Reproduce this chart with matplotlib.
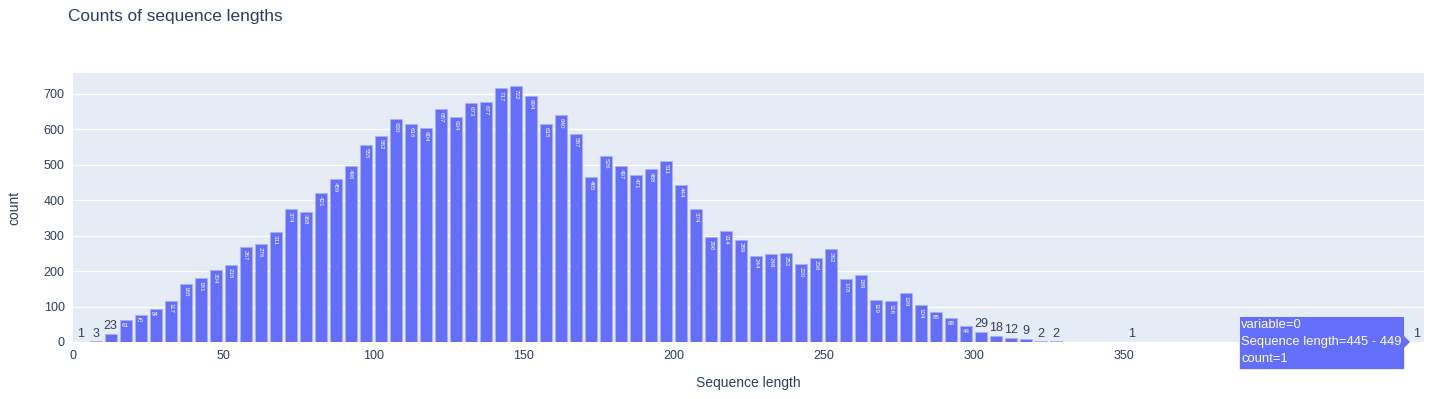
"""Histogram of sequence lengths, plotly-like styling."""
import matplotlib
matplotlib.use("Agg")
import matplotlib.pyplot as plt
from matplotlib.patches import Rectangle, Polygon
import numpy as np

# bin width 5, starting at 0
bin_width = 5
counts = [1, 3, 23, 61, 75, 94, 117, 165, 181, 204, 216, 267, 276, 311, 374, 368,
          421, 459, 496, 555, 582, 630, 616, 604, 657, 634, 673, 677, 717, 722, 694,
          615, 640, 587, 465, 526, 497, 471, 488, 511, 444, 374, 296, 314, 289, 244,
          248, 252, 220, 238, 262, 178, 189, 119, 116, 139, 104, 85, 68, 44, 29, 18,
          12, 9, 2, 2]
# isolated bins further out: (bin start, count)
extra_bins = [(350, 1), (445, 1)]

y_ticks = [0, 100, 200, 300, 400, 500, 600, 700]
x_ticks = [0, 50, 100, 150, 200, 250, 300, 350]
hover_lines = ["variable=0", "Sequence length=445 - 449", "count=1"]

BAR = "#636efa"
BG = "#E5ECF6"
TXT = "#2a3f5f"

plt.rcParams["font.family"] = ["Liberation Sans", "DejaVu Sans"]

starts = [i * bin_width for i in range(len(counts))] + [s for s, _ in extra_bins]
values = counts + [c for _, c in extra_bins]
centers = np.array(starts) + bin_width / 2

W, H = 1444, 399
fig = plt.figure(figsize=(W / 100, H / 100), dpi=100)
ax = fig.add_axes([73 / W, 1 - 342 / H, (1424 - 73) / W, (342 - 73) / H])
ax.set_facecolor(BG)
ax.bar(centers, values, width=bin_width * 0.8, color=BAR,
       edgecolor="#aab0fc", linewidth=0.6, zorder=3)

for x, v in zip(centers, values):
    if v < 40:
        ax.text(x, v + 4, str(v), ha="center", va="bottom", fontsize=9,
                color=TXT, zorder=4)
    elif v < 100:
        ax.text(x, v - 8, str(v), ha="center", va="top", fontsize=4.5,
                color="white", zorder=4)
    else:
        ax.text(x, v - 8, str(v), ha="center", va="top", fontsize=4.5,
                color="white", rotation=-90, zorder=4)

ax.set_xlim(0, 450)
ax.set_ylim(0, 759)
ax.set_xticks(x_ticks)
ax.set_yticks(y_ticks)
ax.grid(True, axis="y", color="white", linewidth=1, zorder=0)
ax.tick_params(length=0, labelsize=9, labelcolor=TXT, pad=6)
for s in ax.spines.values():
    s.set_visible(False)
ax.set_xlabel("Sequence length", fontsize=10, color=TXT, labelpad=10)
ax.set_ylabel("count", fontsize=10, color=TXT, labelpad=16)

fig.text(68 / W, 1 - 17 / H, "Counts of sequence lengths", fontsize=12.4,
         color=TXT, va="center", ha="left")

# hover label
x0, x1, y0, y1 = 1239, 1404, 316, 369
fig.patches.append(Rectangle((x0 / W, 1 - y1 / H), (x1 - x0) / W, (y1 - y0) / H,
                             transform=fig.transFigure, facecolor=BAR,
                             edgecolor="white", linewidth=0.5, zorder=5))
fig.patches.append(Polygon([(x1 / W, 1 - 336 / H), (1410 / W, 1 - 342 / H),
                            (x1 / W, 1 - 348 / H)], closed=True,
                           transform=fig.transFigure, facecolor=BAR,
                           edgecolor="none", zorder=5))
for i, line in enumerate(hover_lines):
    fig.text(1241 / W, 1 - (325 + 17 * i) / H, line, fontsize=9.4,
             color="white", va="center", ha="left", zorder=6)

fig.savefig("out.png", dpi=100)
